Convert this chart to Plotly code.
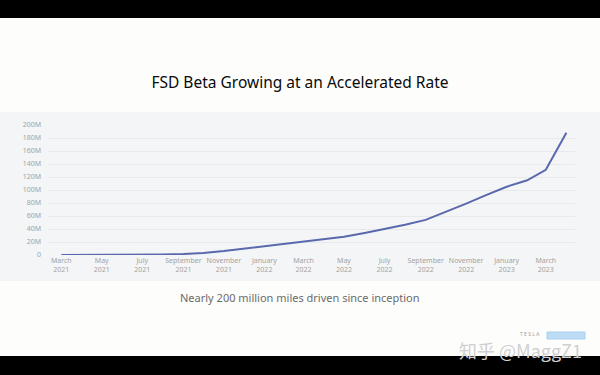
import plotly.graph_objects as go

# ---- data (cumulative FSD Beta miles, millions) ----
months = ["2021-03-01", "2021-04-01", "2021-05-01", "2021-06-01", "2021-07-01", "2021-08-01",
          "2021-09-01", "2021-10-01", "2021-11-01", "2021-12-01", "2022-01-01", "2022-02-01",
          "2022-03-01", "2022-04-01", "2022-05-01", "2022-06-01", "2022-07-01", "2022-08-01",
          "2022-09-01", "2022-10-01", "2022-11-01", "2022-12-01", "2023-01-01", "2023-02-01",
          "2023-03-01", "2023-04-01"]
miles_m = [0.1, 0.1, 0.2, 0.3, 0.5, 0.9, 1.5, 3, 6, 9.5, 13, 17, 21, 24.5, 28, 34, 40, 46.5,
           54, 66, 79, 92, 105, 115, 131, 188]

x_tick_vals = ["2021-03-01", "2021-05-01", "2021-07-01", "2021-09-01", "2021-11-01",
               "2022-01-01", "2022-03-01", "2022-05-01", "2022-07-01", "2022-09-01",
               "2022-11-01", "2023-01-01", "2023-03-01"]
x_tick_text = ["March<br>2021", "May<br>2021", "July<br>2021", "September<br>2021",
               "November<br>2021", "January<br>2022", "March<br>2022", "May<br>2022",
               "July<br>2022", "September<br>2022", "November<br>2022", "January<br>2023",
               "March<br>2023"]
y_tick_vals = [0, 20, 40, 60, 80, 100, 120, 140, 160, 180, 200]
y_tick_text = ["0", "20M", "40M", "60M", "80M", "100M", "120M", "140M", "160M", "180M", "200M"]

title_text = "FSD Beta Growing at an Accelerated Rate"
subtitle_text = "Nearly 200 million miles driven since inception"
watermark_text = "知乎 @MaggZ1"
logo_text = "T E S L A"

# ---- layout geometry (pixels) ----
W, H = 600, 375
ML, MR, MT, MB = 48, 25, 125, 120
PW, PH = W - ML - MR, H - MT - MB


def px_x(p):
    return (p - ML) / PW


def px_y(p):
    return (H - MB - p) / PH


fig = go.Figure()
fig.add_trace(go.Scatter(
    x=months, y=miles_m, mode="lines",
    line=dict(color="#5a69ad", width=2),
    hoverinfo="skip", showlegend=False,
))

shapes = [
    # grey chart band
    dict(type="rect", xref="paper", yref="paper", x0=px_x(0), x1=px_x(W),
         y0=px_y(281), y1=px_y(112), fillcolor="#f4f5f6", line_width=0, layer="below"),
    # black letterbox bars
    dict(type="rect", xref="paper", yref="paper", x0=px_x(0), x1=px_x(W),
         y0=px_y(18), y1=px_y(0), fillcolor="#000000", line_width=0, layer="above"),
    dict(type="rect", xref="paper", yref="paper", x0=px_x(0), x1=px_x(W),
         y0=px_y(H), y1=px_y(356), fillcolor="#000000", line_width=0, layer="above"),
    # small blue badge
    dict(type="rect", xref="paper", yref="paper", x0=px_x(547), x1=px_x(585),
         y0=px_y(339), y1=px_y(332), fillcolor="#bcdcf5", line=dict(color="#a9d0f0", width=1),
         layer="above"),
]

annotations = [
    dict(text=subtitle_text, xref="paper", yref="paper", x=px_x(300), y=px_y(297),
         xanchor="center", yanchor="middle", showarrow=False,
         font=dict(family="Noto Sans", size=11, color="#6b6b6b")),
    dict(text=logo_text, xref="paper", yref="paper", x=px_x(542), y=px_y(334),
         xanchor="right", yanchor="middle", showarrow=False,
         font=dict(family="Noto Sans", size=5, color="#9a9a9a")),
    dict(text=watermark_text, xref="paper", yref="paper", x=px_x(584), y=px_y(350),
         xanchor="right", yanchor="middle", showarrow=False,
         font=dict(family="Noto Sans CJK SC", size=18, color="#d0d0d0")),
]

fig.update_layout(
    width=W, height=H,
    margin=dict(l=ML, r=MR, t=MT, b=MB, pad=0),
    paper_bgcolor="#fdfdfc",
    plot_bgcolor="rgba(0,0,0,0)",
    title=dict(text=title_text, x=0.5, xref="container", xanchor="center",
               y=1 - 83 / H, yref="container", yanchor="middle",
               font=dict(family="Noto Sans", size=15.5, color="#0a0a0a")),
    shapes=shapes,
    annotations=annotations,
    xaxis=dict(
        type="date", range=["2021-02-09", "2023-04-14"],
        tickmode="array", tickvals=x_tick_vals, ticktext=x_tick_text,
        showgrid=False, zeroline=False, showline=False, ticks="",
        tickfont=dict(family="Noto Sans", size=7, color="#a3a3a3"),
    ),
    yaxis=dict(
        range=[0, 200], tickmode="array", tickvals=y_tick_vals, ticktext=y_tick_text,
        showgrid=True, gridcolor="#e8e9ea", gridwidth=1, zeroline=False, showline=False,
        ticks="", ticklabelstandoff=6,
        tickfont=dict(family="Noto Sans", size=7, color="#a3a3a3"),
    ),
)

fig.write_html("out.html", config={"displayModeBar": False},
               post_script="document.body.style.margin='0';")
